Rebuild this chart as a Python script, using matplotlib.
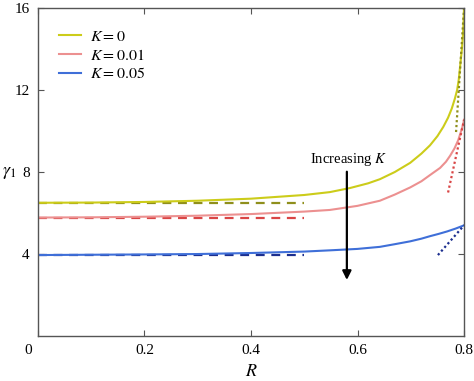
import matplotlib
matplotlib.use("Agg")
import matplotlib.pyplot as plt
from matplotlib.transforms import ScaledTranslation

plt.rcParams['font.family'] = ['Liberation Serif', 'DejaVu Serif']
plt.rcParams['mathtext.fontset'] = 'stix'

# Data
R_k0 = [0.0, 0.1, 0.2, 0.3, 0.4, 0.5, 0.548, 0.586, 0.62, 0.642, 0.67, 0.699, 0.72, 0.736,
        0.75, 0.761, 0.77, 0.777, 0.783, 0.787, 0.79, 0.792, 0.794, 0.796, 0.798, 0.799, 0.8]
g_k0 = [6.5, 6.51, 6.54, 6.6, 6.7, 6.88, 7.02, 7.22, 7.45, 7.65, 8.0, 8.45, 8.9, 9.3,
        9.75, 10.2, 10.65, 11.1, 11.6, 12.0, 12.5, 13.0, 13.5, 14.0, 14.7, 15.3, 16.0]

R_k1 = [0.0, 0.1, 0.2, 0.3, 0.4, 0.5, 0.548, 0.6, 0.642, 0.67, 0.699, 0.72, 0.736, 0.755,
        0.766, 0.774, 0.782, 0.789, 0.794, 0.798, 0.8]
g_k1 = [5.78, 5.79, 5.82, 5.87, 5.95, 6.07, 6.15, 6.35, 6.6, 6.9, 7.25, 7.55, 7.85, 8.2,
        8.5, 8.8, 9.15, 9.55, 9.95, 10.3, 10.55]

R_k5 = [0.0, 0.2, 0.3, 0.4, 0.5, 0.548, 0.6, 0.642, 0.67, 0.699, 0.72, 0.736, 0.752, 0.768,
        0.784, 0.8]
g_k5 = [3.95, 3.98, 4.0, 4.05, 4.12, 4.18, 4.25, 4.35, 4.48, 4.62, 4.75, 4.87, 4.98, 5.1,
        5.24, 5.4]

# small-R asymptotes (dashed)
R_dash = [0.0, 0.5]
g_dash_k0 = [6.5, 6.5]
g_dash_k1 = [5.75, 5.75]
g_dash_k5 = [3.95, 3.95]

# near-R=0.8 asymptotes (dotted)
R_dot_k0 = [0.785, 0.8]
g_dot_k0 = [9.95, 16.0]
R_dot_k1 = [0.770, 0.8]
g_dot_k1 = [7.0, 10.55]
R_dot_k5 = [0.751, 0.8]
g_dot_k5 = [3.95, 5.4]

labels = ['$K=0$', '$K=0.01$', '$K=0.05$']
x_ticks = [0, 0.2, 0.4, 0.6, 0.8]
x_ticklabels = ['0', '0.2', '0.4', '0.6', '0.8']
y_ticks = [4, 8, 12, 16]
y_ticklabels = ['4', '8', '12', '16']

c_solid = ['#cccc1a', '#ec9090', '#3f6fd8']
c_dash = ['#8f8f1c', '#d94545', '#1c2f8f']

fig = plt.figure(figsize=(4.74, 3.81), dpi=100)
ax = fig.add_axes([0.080, 0.118, 0.899, 0.861])

ax.plot(R_dash, g_dash_k0, color=c_dash[0], lw=1.6, dashes=(4, 3))
ax.plot(R_dash, g_dash_k1, color=c_dash[1], lw=1.6, dashes=(4, 3))
ax.plot(R_dash, g_dash_k5, color=c_dash[2], lw=1.6, dashes=(4, 3))

ax.plot(R_k0, g_k0, color=c_solid[0], lw=1.5, label=labels[0])
ax.plot(R_k1, g_k1, color=c_solid[1], lw=1.5, label=labels[1])
ax.plot(R_k5, g_k5, color=c_solid[2], lw=1.5, label=labels[2])

ax.plot(R_dot_k0, g_dot_k0, color=c_dash[0], lw=1.6, linestyle=(0, (1, 1.2)))
ax.plot(R_dot_k1, g_dot_k1, color=c_dash[1], lw=1.6, linestyle=(0, (1, 1.2)))
ax.plot(R_dot_k5, g_dot_k5, color=c_dash[2], lw=1.6, linestyle=(0, (1, 1.2)))

ax.set_xlim(0, 0.8)
ax.set_ylim(0, 16)
ax.set_xticks(x_ticks)
ax.set_xticklabels(x_ticklabels)
ax.set_yticks(y_ticks)
ax.set_yticklabels(y_ticklabels)
ax.tick_params(direction='in', length=4, width=0.8, colors='#555555',
               labelcolor='black', labelsize=11, top=True, right=True, pad=6)
for s in ax.spines.values():
    s.set_color('#555555')
    s.set_linewidth(1.0)

# shift the corner "0" label left as in the reference
lab0 = ax.get_xticklabels()[0]
lab0.set_transform(lab0.get_transform() + ScaledTranslation(-10 / 100, 0, fig.dpi_scale_trans))

ax.set_xlabel('$R$', fontsize=13, labelpad=4)
ax.set_ylabel(r'$\gamma_1$', fontsize=13, rotation=0, va='center', ha='center')
ax.yaxis.set_label_coords(-0.068, 0.5)

ax.annotate('', xy=(0.58, 2.6), xytext=(0.58, 8.15),
            arrowprops=dict(arrowstyle='-|>', color='black', lw=1.6,
                            mutation_scale=13))
ax.text(0.583, 8.6, 'Increasing $K$', fontsize=10.5, ha='center', va='center')

leg = ax.legend(loc='upper left', bbox_to_anchor=(0.05, 0.937), frameon=False,
                fontsize=11.5, handlelength=1.35, handletextpad=0.6,
                labelspacing=0.18, borderaxespad=0.0, borderpad=0.0)

fig.savefig('out.png', dpi=100)
